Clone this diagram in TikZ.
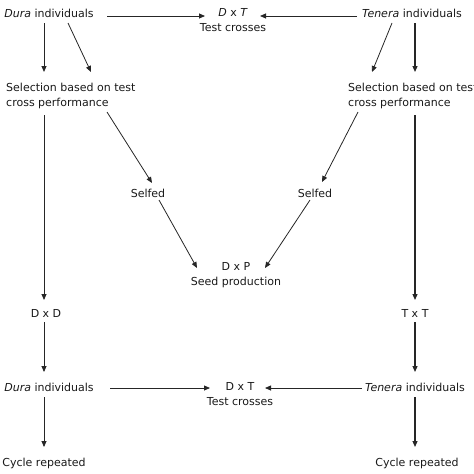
\documentclass[tikz,border=0pt]{standalone}
\usepackage{fontspec}
\setmainfont{DejaVu Sans}
\usetikzlibrary{arrows.meta}

\begin{document}
\begin{tikzpicture}[
	x=1pt, y=-1pt,
	>={Triangle[length=6pt,width=5pt]},
	stage/.style = {anchor=base, inner sep=0pt, align=center, font=\fontsize{11}{14.5}\selectfont, text=black!90},
	lstage/.style = {stage, anchor=base west, align=left},
	flow/.style = {->, line width=0.8pt, color=black!85},
	flowR/.style = {flow, line width=1.2pt},
]
\useasboundingbox (0,0) rectangle (474,474);

% Define nodes
\node[stage] (duraA) at (49,17) {\textit{Dura} individuals};
\node[stage] (dtA) at (233,31) {\textit{D} x \textit{T}\\Test crosses};
\node[stage] (teneraA) at (412,17) {\textit{Tenera} individuals};
\node[lstage] (selD) at (6,106) {Selection based on test\\cross performance};
\node[lstage] (selT) at (348,106) {Selection based on test\\cross performance};
\node[stage] (selfD) at (148,197) {Selfed};
\node[stage] (selfT) at (315,197) {Selfed};
\node[stage] (dxp) at (236,285) {D x P\\Seed production};
\node[stage] (dxd) at (46,317) {D x D};
\node[stage] (txt) at (415,317) {T x T};
\node[stage] (duraB) at (49,391) {\textit{Dura} individuals};
\node[stage] (dtB) at (240,405) {D x T\\Test crosses};
\node[stage] (teneraB) at (415,391) {\textit{Tenera} individuals};
\node[stage] (cycD) at (44,466) {Cycle repeated};
\node[stage] (cycT) at (417,466) {Cycle repeated};

% Draw edges
\path[flow] ([xshift=58pt,yshift=1pt]duraA.base) edge ([xshift=-28pt,yshift=15pt]dtA.base);
\path[flow] ([xshift=-55pt,yshift=1pt]teneraA.base) edge ([xshift=27pt,yshift=15pt]dtA.base);
\path[flow] ([xshift=-5pt,yshift=-6pt]duraA.base) edge ([xshift=38pt,yshift=34pt]selD.base west);
\path[flow] ([xshift=19pt,yshift=-6pt]duraA.base) edge ([xshift=85pt,yshift=34pt]selD.base west);
\path[flow] ([xshift=-20pt,yshift=-6pt]teneraA.base) edge ([xshift=24pt,yshift=34pt]selT.base west);
\path[flowR] ([xshift=3pt,yshift=-6pt]teneraA.base) edge ([xshift=67pt,yshift=34pt]selT.base west);
\path[flow] ([xshift=38pt,yshift=-9pt]selD.base west) edge ([xshift=-2pt,yshift=17pt]dxd.base);
\path[flow] ([xshift=101pt,yshift=-6pt]selD.base west) edge ([xshift=4pt,yshift=14pt]selfD.base);
\path[flow] ([xshift=10pt,yshift=-6pt]selT.base west) edge ([xshift=7pt,yshift=15pt]selfT.base);
\path[flowR] ([xshift=67pt,yshift=-9pt]selT.base west) edge ([yshift=17pt]txt.base);
\path[flow] ([xshift=11pt,yshift=-3pt]selfD.base) edge ([xshift=-39pt,yshift=17pt]dxp.base);
\path[flow] ([xshift=-5pt,yshift=-3pt]selfT.base) edge ([xshift=29pt,yshift=17pt]dxp.base);
\path[flow] ([xshift=-2pt,yshift=-5pt]dxd.base) edge ([xshift=-5pt,yshift=19pt]duraB.base);
\path[flowR] ([yshift=-5pt]txt.base) edge ([yshift=19pt]teneraB.base);
\path[flow] ([xshift=61pt,yshift=3pt]duraB.base) edge ([xshift=-30pt,yshift=17pt]dtB.base);
\path[flow] ([xshift=-53pt,yshift=3pt]teneraB.base) edge ([xshift=25pt,yshift=17pt]dtB.base);
\path[flow] ([xshift=-5pt,yshift=-6pt]duraB.base) edge ([yshift=19pt]cycD.base);
\path[flowR] ([yshift=-6pt]teneraB.base) edge ([xshift=-2pt,yshift=19pt]cycT.base);
\end{tikzpicture}
\end{document}
